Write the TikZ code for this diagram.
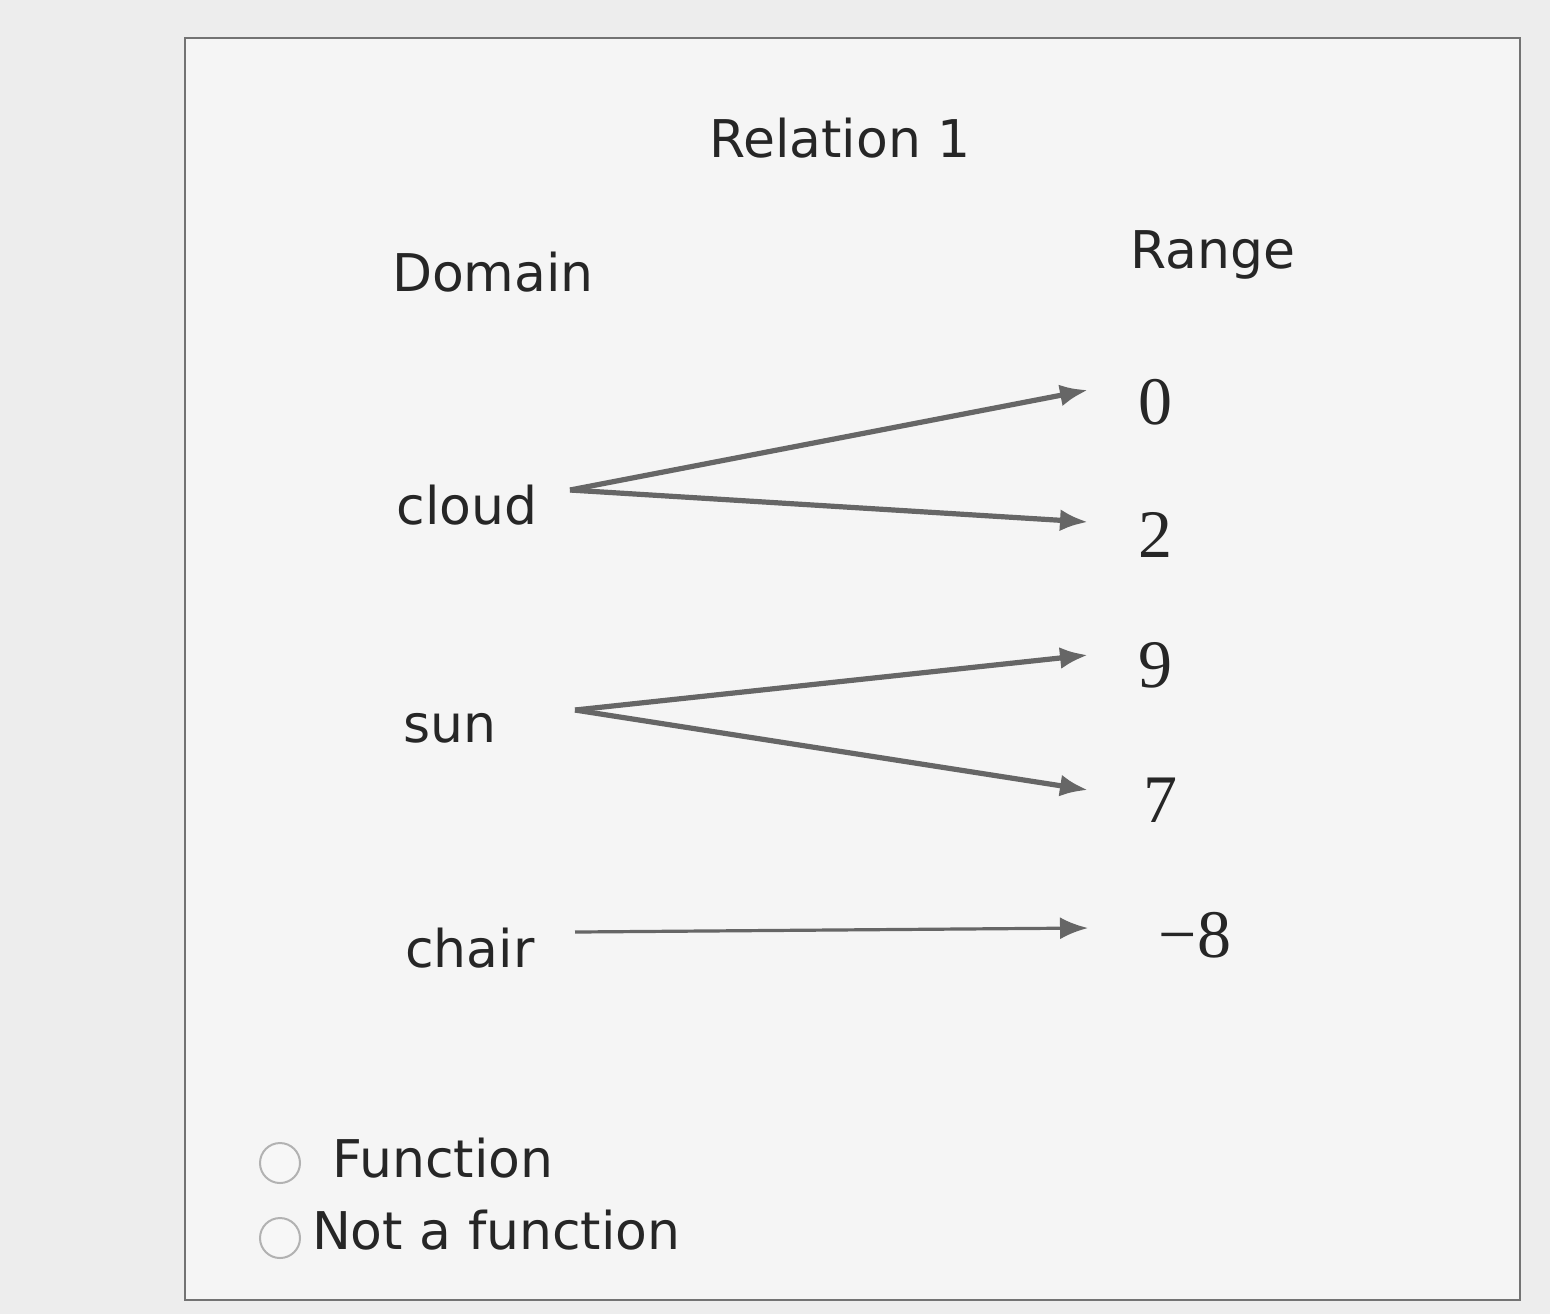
\documentclass[tikz,border=0pt]{standalone}
\usepackage{fontspec}
\setmainfont{DejaVu Sans}
\newfontfamily\numfont{Liberation Serif}
\usetikzlibrary{arrows.meta}
\begin{document}
\begin{tikzpicture}[x=0.5pt,y=-0.5pt,
  lab/.style={font=\fontsize{26}{32}\selectfont,text=black!85},
  num/.style={font=\numfont\fontsize{34}{40}\selectfont,text=black!85},
  arr/.style={draw=black!60,line width=2.6pt,-{Latex[length=14pt,width=11pt]}},
  radio/.style={draw=black!30,line width=1pt,fill=black!3}]
\fill[black!7] (0,0) rectangle (1550,1314);
\useasboundingbox (0,0) rectangle (1550,1314);
\fill[black!4,draw=black!55,line width=1.2pt] (185,38) rectangle (1520,1300);
\node[lab] (title) at (840,138) {Relation 1};
\node[lab] (dom) at (493,272) {Domain};
\node[lab] (ran) at (1213,255) {Range};
\node[lab] (cloud) at (467,505) {cloud};
\node[lab] (sun) at (450,728) {sun};
\node[lab] (chair) at (470,948) {chair};
\node[num] (r0) at (1155,402) {0};
\node[num] (r2) at (1155,535) {2};
\node[num] (r9) at (1155,665) {9};
\node[num] (r7) at (1160,800) {7};
\node[num] (r8) at (1195,935) {\textminus 8};
\coordinate (cs) at (570,490);
\coordinate (ss) at (575,710);
\coordinate (hs) at (575,932);
\coordinate (e0) at (1088,390);
\coordinate (e2) at (1088,522);
\coordinate (e9) at (1088,655);
\coordinate (e7) at (1088,790);
\coordinate (e8) at (1088,928);
\draw[arr] (cs) -- (e0);
\draw[arr] (cs) -- (e2);
\draw[arr] (ss) -- (e9);
\draw[arr] (ss) -- (e7);
\draw[arr,line width=1.6pt] (hs) -- (e8);
\draw[radio] (280,1163) circle (20);
\draw[radio] (280,1238) circle (20);
\node[lab,anchor=west] (f) at (325,1158) {Function};
\node[lab,anchor=west] (nf) at (305,1230) {Not a function};
\end{tikzpicture}
\end{document}
